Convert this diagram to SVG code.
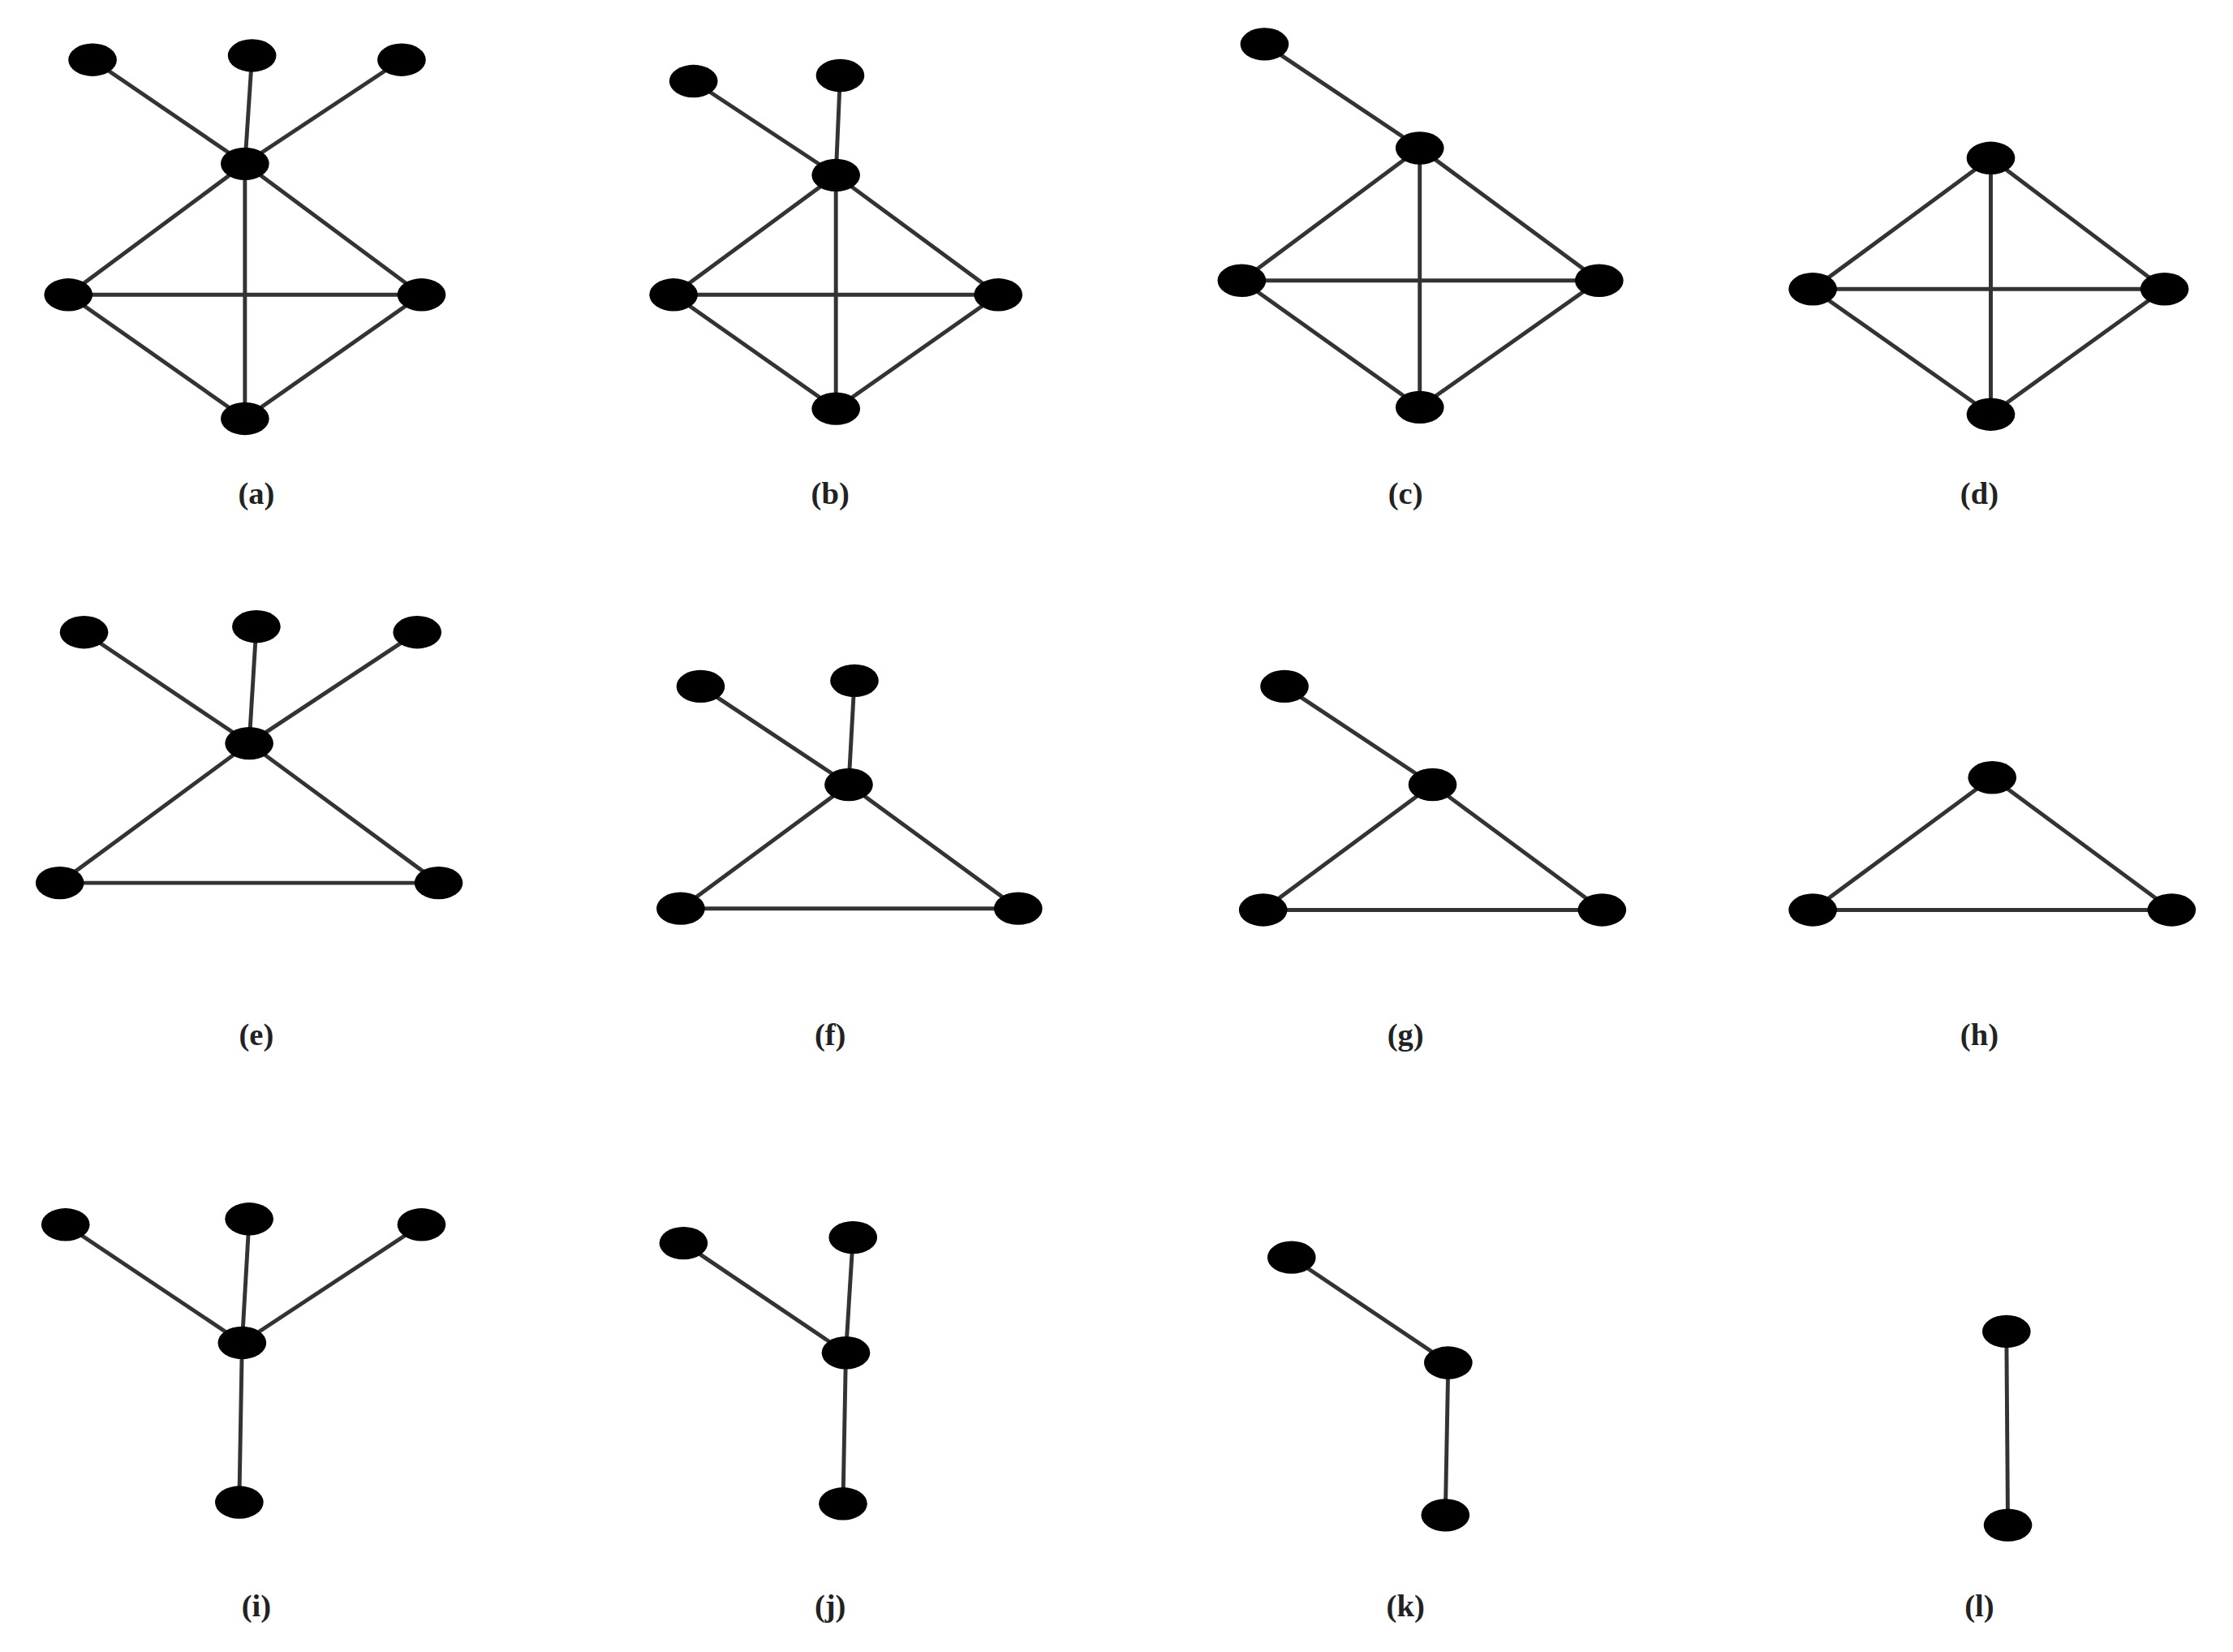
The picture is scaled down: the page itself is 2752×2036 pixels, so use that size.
<svg xmlns="http://www.w3.org/2000/svg" width="2752" height="2036" viewBox="0 0 2752 2036">
<style>
.n ellipse{fill:#000}
.e line{stroke:#333;stroke-width:2.8}
text{font-family:"Liberation Serif",serif;font-size:22px;font-weight:bold;fill:#222;text-anchor:middle}
</style>
<defs><ellipse id="nd" rx="17" ry="11.5"/></defs>
<rect width="2752" height="2036" fill="#fff"/>
<g transform="scale(1.755)">
<g class="e" id="connectors">
<line x1="65" y1="42" x2="172" y2="115"/><line x1="177" y1="39" x2="172" y2="115"/><line x1="282" y1="42" x2="172" y2="115"/>
<line x1="172" y1="115" x2="48" y2="207"/><line x1="172" y1="115" x2="296" y2="207"/><line x1="172" y1="115" x2="172" y2="294"/>
<line x1="48" y1="207" x2="296" y2="207"/><line x1="48" y1="207" x2="172" y2="294"/><line x1="296" y1="207" x2="172" y2="294"/>
<line x1="487" y1="57" x2="587" y2="123"/><line x1="590" y1="53" x2="587" y2="123"/>
<line x1="587" y1="123" x2="473" y2="207"/><line x1="587" y1="123" x2="701" y2="207"/><line x1="587" y1="123" x2="587" y2="287"/>
<line x1="473" y1="207" x2="701" y2="207"/><line x1="473" y1="207" x2="587" y2="287"/><line x1="701" y1="207" x2="587" y2="287"/>
<line x1="888" y1="31" x2="997" y2="104"/>
<line x1="997" y1="104" x2="872" y2="197"/><line x1="997" y1="104" x2="1123" y2="197"/><line x1="997" y1="104" x2="997" y2="286"/>
<line x1="872" y1="197" x2="1123" y2="197"/><line x1="872" y1="197" x2="997" y2="286"/><line x1="1123" y1="197" x2="997" y2="286"/>
<line x1="1398" y1="111" x2="1273" y2="203"/><line x1="1398" y1="111" x2="1520" y2="203"/><line x1="1398" y1="111" x2="1398" y2="291"/>
<line x1="1273" y1="203" x2="1520" y2="203"/><line x1="1273" y1="203" x2="1398" y2="291"/><line x1="1520" y1="203" x2="1398" y2="291"/>
<line x1="59" y1="444" x2="175" y2="522"/><line x1="180" y1="440" x2="175" y2="522"/><line x1="293" y1="444" x2="175" y2="522"/>
<line x1="175" y1="522" x2="42" y2="620"/><line x1="175" y1="522" x2="308" y2="620"/><line x1="42" y1="620" x2="308" y2="620"/>
<line x1="492" y1="482" x2="596" y2="551"/><line x1="600" y1="478" x2="596" y2="551"/>
<line x1="596" y1="551" x2="478" y2="638"/><line x1="596" y1="551" x2="715" y2="638"/><line x1="478" y1="638" x2="715" y2="638"/>
<line x1="902" y1="482" x2="1006" y2="551"/>
<line x1="1006" y1="551" x2="887" y2="639"/><line x1="1006" y1="551" x2="1125" y2="639"/><line x1="887" y1="639" x2="1125" y2="639"/>
<line x1="1399" y1="546" x2="1273" y2="639"/><line x1="1399" y1="546" x2="1525" y2="639"/><line x1="1273" y1="639" x2="1525" y2="639"/>
<line x1="46" y1="860" x2="170" y2="943"/><line x1="175" y1="856" x2="170" y2="943"/><line x1="296" y1="860" x2="170" y2="943"/><line x1="170" y1="943" x2="168" y2="1055"/>
<line x1="480" y1="873" x2="594" y2="950"/><line x1="599" y1="869" x2="594" y2="950"/><line x1="594" y1="950" x2="592" y2="1056"/>
<line x1="907" y1="883" x2="1017" y2="957"/><line x1="1017" y1="957" x2="1015" y2="1064"/>
<line x1="1409" y1="935" x2="1410" y2="1071"/>
</g>
<g class="n">
<g id="a"><use href="#nd" x="65" y="42"/><use href="#nd" x="177" y="39"/><use href="#nd" x="282" y="42"/><use href="#nd" x="172" y="115"/><use href="#nd" x="48" y="207"/><use href="#nd" x="296" y="207"/><use href="#nd" x="172" y="294"/><text x="180" y="354">(a)</text></g>
<g id="b"><use href="#nd" x="487" y="57"/><use href="#nd" x="590" y="53"/><use href="#nd" x="587" y="123"/><use href="#nd" x="473" y="207"/><use href="#nd" x="701" y="207"/><use href="#nd" x="587" y="287"/><text x="583" y="354">(b)</text></g>
<g id="c"><use href="#nd" x="888" y="31"/><use href="#nd" x="997" y="104"/><use href="#nd" x="872" y="197"/><use href="#nd" x="1123" y="197"/><use href="#nd" x="997" y="286"/><text x="987" y="354">(c)</text></g>
<g id="d"><use href="#nd" x="1398" y="111"/><use href="#nd" x="1273" y="203"/><use href="#nd" x="1520" y="203"/><use href="#nd" x="1398" y="291"/><text x="1390" y="354">(d)</text></g>
<g id="e"><use href="#nd" x="59" y="444"/><use href="#nd" x="180" y="440"/><use href="#nd" x="293" y="444"/><use href="#nd" x="175" y="522"/><use href="#nd" x="42" y="620"/><use href="#nd" x="308" y="620"/><text x="180" y="734">(e)</text></g>
<g id="f"><use href="#nd" x="492" y="482"/><use href="#nd" x="600" y="478"/><use href="#nd" x="596" y="551"/><use href="#nd" x="478" y="638"/><use href="#nd" x="715" y="638"/><text x="583" y="734">(f)</text></g>
<g id="g"><use href="#nd" x="902" y="482"/><use href="#nd" x="1006" y="551"/><use href="#nd" x="887" y="639"/><use href="#nd" x="1125" y="639"/><text x="987" y="734">(g)</text></g>
<g id="h"><use href="#nd" x="1399" y="546"/><use href="#nd" x="1273" y="639"/><use href="#nd" x="1525" y="639"/><text x="1390" y="734">(h)</text></g>
<g id="i"><use href="#nd" x="46" y="860"/><use href="#nd" x="175" y="856"/><use href="#nd" x="296" y="860"/><use href="#nd" x="170" y="943"/><use href="#nd" x="168" y="1055"/><text x="180" y="1135">(i)</text></g>
<g id="j"><use href="#nd" x="480" y="873"/><use href="#nd" x="599" y="869"/><use href="#nd" x="594" y="950"/><use href="#nd" x="592" y="1056"/><text x="583" y="1135">(j)</text></g>
<g id="k"><use href="#nd" x="907" y="883"/><use href="#nd" x="1017" y="957"/><use href="#nd" x="1015" y="1064"/><text x="987" y="1135">(k)</text></g>
<g id="l"><use href="#nd" x="1409" y="935"/><use href="#nd" x="1410" y="1071"/><text x="1390" y="1135">(l)</text></g>
</g>
</g>
</svg>
